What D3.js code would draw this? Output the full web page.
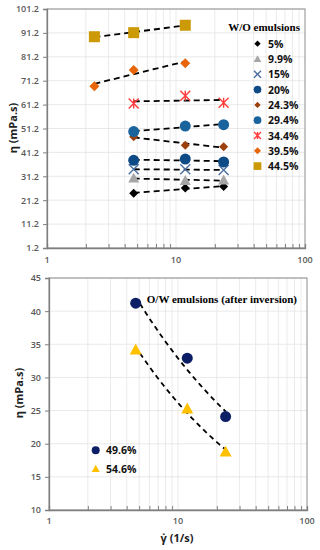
<!DOCTYPE html>
<html><head><meta charset="utf-8">
<script src="https://cdn.jsdelivr.net/npm/d3@7"></script>
<style>body{margin:0;background:#fff}svg{display:block}</style>
</head><body>
<svg id="c" width="320" height="550"></svg>
<script>
// ---- Data ----
const topSeries = ["5%","9.9%","15%","20%","24.3%","29.4%","34.4%","39.5%","44.5%"];
const topX3 = [4.7, 11.8, 23.4];
const topXlow = [2.33, 4.7, 11.8];
const v5   = [24.1, 26.3, 26.9];
const v9_9 = [30.4, 29.4, 29.6];
const v15  = [34.1, 34.1, 33.8];
const v20  = [37.9, 38.4, 37.2];
const v24_3= [47.8, 44.2, 43.6];
const v29_4= [49.9, 52.2, 52.8];
const v34_4= [61.7, 64.9, 62.0];
const v39_5= [68.9, 75.7, 78.5];
const v44_5= [89.6, 91.3, 94.4];
const topYTicks = [1.2,11.2,21.2,31.2,41.2,51.2,61.2,71.2,81.2,91.2,101.2];
const xTickLabels = [1,10,100];

const botSeries = ["49.6%","54.6%"];
const botX = [4.7, 11.8, 23.4];
const v49_6 = [41.2, 32.9, 24.1];
const v54_6 = [34.2, 25.3, 18.8];
const botYTicks = [10,15,20,25,30,35,40,45];

// ---- Styles ----
const styles = {
 "5%":   {shape:"diamond", color:"#000000", size:9},
 "9.9%": {shape:"triangle", color:"#a6a6a6", size:11},
 "15%":  {shape:"x", color:"#4a6fa0", size:10},
 "20%":  {shape:"circle", color:"#0d4a86", size:11},
 "24.3%":{shape:"diamond", color:"#9c410d", size:9},
 "29.4%":{shape:"circle", color:"#1a649e", size:11},
 "34.4%":{shape:"star", color:"#ff3b3b", size:10},
 "39.5%":{shape:"diamond", color:"#e8650a", size:10},
 "44.5%":{shape:"square", color:"#cc9a06", size:11},
 "49.6%":{shape:"circle", color:"#0c1f66", size:11},
 "54.6%":{shape:"triangle", color:"#ffc000", size:12}
};

const svg = d3.select("#c");

// least squares of v against ln(x) (straight line on log axis)
function logFit(xs, ys){
  const lx = xs.map(Math.log), mx=d3.mean(lx), my=d3.mean(ys);
  const b = d3.sum(lx.map((v,i)=>(v-mx)*(ys[i]-my)))/d3.sum(lx.map(v=>(v-mx)*(v-mx)));
  return xx => my + b*(Math.log(xx)-mx);
}
// power-law fit y = a x^b
function powFit(xs, ys){
  const lx = xs.map(Math.log), ly = ys.map(Math.log), mx=d3.mean(lx), my=d3.mean(ly);
  const b = d3.sum(lx.map((v,i)=>(v-mx)*(ly[i]-my)))/d3.sum(lx.map(v=>(v-mx)*(v-mx)));
  return xx => Math.exp(my + b*(Math.log(xx)-mx));
}

function marker(g, shape, color, s, x, y){
  if(shape==="circle") g.append("circle").attr("cx",x).attr("cy",y).attr("r",s/2).attr("fill",color);
  else if(shape==="square") g.append("rect").attr("x",x-s/2).attr("y",y-s/2).attr("width",s).attr("height",s).attr("fill",color);
  else if(shape==="diamond") g.append("path").attr("d",`M${x},${y-s/2}L${x+s/2},${y}L${x},${y+s/2}L${x-s/2},${y}Z`).attr("fill",color);
  else if(shape==="triangle") g.append("path").attr("d",`M${x},${y-s/2}L${x+s/2},${y+s/2*0.8}L${x-s/2},${y+s/2*0.8}Z`).attr("fill",color);
  else if(shape==="x"){
    const h=s/2;
    g.append("path").attr("d",`M${x-h},${y-h}L${x+h},${y+h}M${x-h},${y+h}L${x+h},${y-h}`).attr("stroke",color).attr("stroke-width",1.4);
  } else if(shape==="star"){
    const h=s/2;
    g.append("path").attr("d",`M${x-h},${y-h}L${x+h},${y+h}M${x-h},${y+h}L${x+h},${y-h}M${x},${y-h}L${x},${y+h}`).attr("stroke",color).attr("stroke-width",1.4);
  }
}

function drawFrame(g, x, y, yTicks, left, right, top, bottom, labOff){
  const minors=[];
  for(let d=1;d<100;d*=10) for(let k=2;k<=9;k++) minors.push(d*k);
  g.selectAll(".vg").data(minors.concat([10])).join("line")
   .attr("x1",d=>x(d)).attr("x2",d=>x(d)).attr("y1",top).attr("y2",bottom)
   .attr("stroke","#e6e6e6").attr("stroke-width",0.8);
  g.selectAll(".hg").data(yTicks).join("line")
   .attr("x1",left).attr("x2",right).attr("y1",d=>y(d)).attr("y2",d=>y(d))
   .attr("stroke","#e3e3e3").attr("stroke-width",0.8);
  g.append("rect").attr("x",left).attr("y",top).attr("width",right-left).attr("height",bottom-top)
   .attr("fill","none").attr("stroke","#8c8c8c").attr("stroke-width",1);
  const ya = d3.axisLeft(y).tickValues(yTicks).tickSize(4).tickFormat(d=>d3.format(".1~f")(d));
  const ga = g.append("g").attr("transform",`translate(${left},0)`).call(ya);
  ga.select(".domain").attr("stroke","#7f7f7f").attr("stroke-width",1.3);
  ga.selectAll(".tick line").attr("stroke","#7f7f7f");
  ga.selectAll("text").attr("font-family","Open Sans, sans-serif").attr("font-size",9).attr("font-weight",600).attr("fill","#595959").attr("x",-8);
  const xa = d3.axisBottom(x).tickValues(minors).tickSize(-4).tickFormat("");
  const gx = g.append("g").attr("transform",`translate(0,${bottom})`).call(xa);
  gx.select(".domain").attr("stroke","#7f7f7f").attr("stroke-width",1.3);
  gx.selectAll(".tick line").attr("stroke","#7f7f7f");
  g.selectAll(".xl").data(xTickLabels).join("text")
   .attr("x",d=>x(d)).attr("y",bottom+labOff).attr("text-anchor","middle")
   .attr("font-family","Open Sans, sans-serif").attr("font-size",9).attr("font-weight",600).attr("fill","#595959").text(d=>d);
}

// ---- Top chart ----
{
  const L=47,R=305,T=9,B=248;
  const x=d3.scaleLog().domain([1,100]).range([L,R]);
  const y=d3.scaleLinear().domain([1.2,101.2]).range([B,T]);
  const g=svg.append("g");
  drawFrame(g,x,y,topYTicks,L,R,T,B,15);
  const vals = [v5,v9_9,v15,v20,v24_3,v29_4,v34_4,v39_5,v44_5];
  const line=d3.line().x(d=>x(d[0])).y(d=>y(d[1]));
  topSeries.forEach((s,i)=>{
    const xs = (s==="39.5%"||s==="44.5%")?topXlow:topX3;
    const f = logFit(xs, vals[i]);
    const ends = [xs[0], xs[xs.length-1]].map(xx=>[xx,f(xx)]);
    g.append("path").attr("d",line(ends)).attr("fill","none").attr("stroke","#000").attr("stroke-width",1.8).attr("stroke-dasharray","6,4");
  });
  topSeries.forEach((s,i)=>{
    const xs = (s==="39.5%"||s==="44.5%")?topXlow:topX3;
    const st=styles[s];
    xs.forEach((xx,j)=>marker(g,st.shape,st.color,st.size,x(xx),y(vals[i][j])));
  });
  g.append("text").attr("x",300).attr("y",31).attr("text-anchor","end")
   .attr("font-family","Liberation Serif, serif").attr("font-weight","bold").attr("font-size",11).text("W/O emulsions");
  topSeries.forEach((s,i)=>{
    const yy=43.7+i*15.3; const st=styles[s];
    marker(g,st.shape,st.color,st.size*0.7,257.5,yy);
    g.append("text").attr("x",268).attr("y",yy+4).attr("font-family","Open Sans, sans-serif").attr("font-weight","bold").attr("font-size",10.5).attr("fill","#111").text(s);
  });
  g.append("text").attr("transform","translate(17,128) rotate(-90)").attr("text-anchor","middle")
   .attr("font-family","Open Sans, sans-serif").attr("font-weight","bold").attr("font-size",11).attr("fill","#222").text("η (mPa.s)");
}

// ---- Bottom chart ----
{
  const L=49,R=307,T=278,B=510;
  const x=d3.scaleLog().domain([1,100]).range([L,R]);
  const y=d3.scaleLinear().domain([10,45]).range([B,T]);
  const g=svg.append("g");
  drawFrame(g,x,y,botYTicks,L,R,T,B,14);
  const vals=[v49_6,v54_6];
  const line=d3.line().x(d=>x(d[0])).y(d=>y(d[1]));
  botSeries.forEach((s,i)=>{
    const f=powFit(botX, vals[i]);
    const lo=Math.log(botX[0]*1.08), hi=Math.log(botX[botX.length-1]);
    const pts=d3.range(0,31).map(k=>{const xx=Math.exp(lo+(hi-lo)*k/30); return [xx,f(xx)];});
    g.append("path").attr("d",line(pts)).attr("fill","none").attr("stroke","#000").attr("stroke-width",1.8).attr("stroke-dasharray","5,4");
  });
  botSeries.forEach((s,i)=>{
    const st=styles[s];
    botX.forEach((xx,j)=>marker(g,st.shape,st.color,st.size,x(xx),y(vals[i][j])));
  });
  g.append("text").attr("x",297).attr("y",303).attr("text-anchor","end")
   .attr("font-family","Liberation Serif, serif").attr("font-weight","bold").attr("font-size",11).text("O/W emulsions (after inversion)");
  botSeries.forEach((s,i)=>{
    const yy=450.3+i*18.4; const st=styles[s];
    marker(g,st.shape,st.color,8,95.7,yy);
    g.append("text").attr("x",106).attr("y",yy+4).attr("font-family","Open Sans, sans-serif").attr("font-weight","bold").attr("font-size",10.5).attr("fill","#111").text(s);
  });
  g.append("text").attr("transform","translate(23,393) rotate(-90)").attr("text-anchor","middle")
   .attr("font-family","Open Sans, sans-serif").attr("font-weight","bold").attr("font-size",11).attr("fill","#222").text("η (mPa.s)");
  g.append("text").attr("x",177).attr("y",542).attr("text-anchor","middle")
   .attr("font-family","Open Sans, sans-serif").attr("font-weight","bold").attr("font-size",11).attr("fill","#222").text("γ\u0307 (1/s)");
}
</script>
</body></html>
